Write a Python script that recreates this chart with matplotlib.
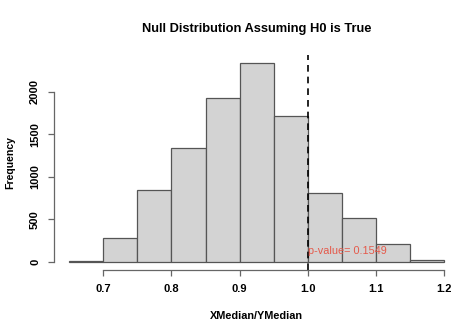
import matplotlib
matplotlib.use("Agg")
import matplotlib.pyplot as plt
import numpy as np

plt.rcParams['font.family'] = ['Liberation Sans', 'DejaVu Sans']

bin_edges = [0.65, 0.70, 0.75, 0.80, 0.85, 0.90, 0.95, 1.00, 1.05, 1.10, 1.15, 1.20]
counts = [10, 275, 843, 1341, 1922, 2341, 1718, 812, 510, 205, 23]
observed = 1.0
p_text = "p-value= 0.1549"
p_text_y = 125
xticks = [0.7, 0.8, 0.9, 1.0, 1.1, 1.2]
xtick_labels = ["0.7", "0.8", "0.9", "1.0", "1.1", "1.2"]
yticks = [0, 500, 1000, 1500, 2000]

fig = plt.figure(figsize=(4.74, 3.32), dpi=100)
ax = fig.add_axes([0.1146, 0.1877, 0.968 - 0.1146, 0.835 - 0.1877])

edges = np.array(bin_edges)
ax.bar(edges[:-1], counts, width=np.diff(edges), align='edge',
       color='#d3d3d3', edgecolor='#555555', linewidth=0.9)

ax.axvline(observed, color='black', linestyle=(0, (4, 3)), linewidth=1.2)
ax.text(observed, p_text_y, p_text, color='#e5594a', fontsize=7.8, ha='left', va='center')

span_x = edges[-1] - edges[0]
ax.set_xlim(edges[0] - 0.04 * span_x, edges[-1] + 0.04 * span_x)
ymax = max(counts)
ax.set_ylim(-0.04 * ymax, ymax * 1.04)

for s in ['top', 'right']:
    ax.spines[s].set_visible(False)
ax.spines['left'].set_bounds(yticks[0], yticks[-1])
ax.spines['bottom'].set_bounds(xticks[0], xticks[-1])
for s in ['left', 'bottom']:
    ax.spines[s].set_color('#666666')
    ax.spines[s].set_linewidth(0.9)

ax.set_xticks(xticks)
ax.set_xticklabels(xtick_labels, fontsize=8, fontweight='bold')
ax.set_yticks(yticks)
ax.set_yticklabels([str(v) for v in yticks], fontsize=8, fontweight='bold',
                   rotation=90, va='center')
ax.tick_params(axis='both', length=4.3, width=0.9, color='#666666', pad=6)

fig.text(0.5 * (0.1146 + 0.968), 1 - 29 / 332, "Null Distribution Assuming H0 is True",
         fontsize=9.3, fontweight='bold', ha='center', va='center')
fig.text(0.5 * (0.1146 + 0.968), 1 - 316 / 332, "XMedian/YMedian",
         fontsize=7.8, fontweight='bold', ha='center', va='center')
fig.text(10 / 474, 1 - 0.5 * (54.8 + 269.7) / 332, "Frequency",
         fontsize=7.6, fontweight='bold', ha='center', va='center', rotation=90)

fig.savefig("out.png", dpi=100)
